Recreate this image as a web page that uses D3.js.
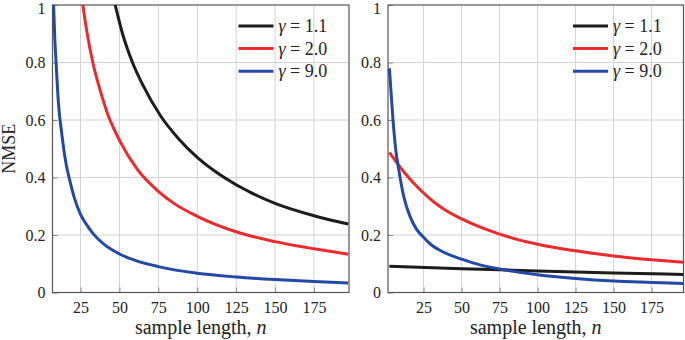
<!DOCTYPE html>
<html lang="en">
<head>
    <meta charset="UTF-8">
    <script type="text/javascript" src="https://d3js.org/d3.v7.min.js"></script>
    <title>NMSE vs sample length</title>
    <style>
        body { margin: 0; background: #fff; }
    </style>
</head>
<body>
    <script type="text/javascript">
        // values: n (sample length) and NMSE, per curve
        const gammaLabels = ["1.1", "2.0", "9.0"];
        const colors = ["#1c1c1c", "#ec2a2d", "#2448a6"];

        // left panel
        const leftBlackN = [47.3, 52, 58.4, 65, 76.5, 88, 100, 110.5, 125, 135.5, 150, 175, 197];
        const leftBlackV = [1.0, 0.9, 0.8, 0.722, 0.614, 0.535, 0.47, 0.425, 0.375, 0.345, 0.31, 0.267, 0.238];
        const leftRedN = [26.5, 29, 32.9, 37, 42.4, 50, 61.5, 75, 85, 100, 127.5, 150, 175, 197];
        const leftRedV = [1.0, 0.91, 0.8, 0.715, 0.622, 0.53, 0.428, 0.352, 0.31, 0.265, 0.207, 0.177, 0.152, 0.133];
        const leftBlueN = [7.7, 8.5, 9.3, 10.8, 13, 15.8, 18.1, 21, 25, 29, 33.2, 40, 50, 62, 75, 100, 125, 150, 175, 197];
        const leftBlueV = [1.0, 0.88, 0.8, 0.66, 0.55, 0.445, 0.39, 0.33, 0.272, 0.235, 0.204, 0.168, 0.134, 0.108, 0.09, 0.067, 0.054, 0.045, 0.038, 0.033];

        // right panel
        const rightBlackN = [2.5, 50, 75, 100, 150, 196];
        const rightBlackV = [0.091, 0.083, 0.079, 0.075, 0.068, 0.063];
        const rightRedN = [2.5, 5, 8.6, 12, 16, 20, 25, 32, 39, 50, 62, 75, 87, 100, 125, 150, 175, 196];
        const rightRedV = [0.487, 0.469, 0.443, 0.42, 0.395, 0.372, 0.346, 0.314, 0.288, 0.256, 0.228, 0.203, 0.184, 0.168, 0.145, 0.127, 0.114, 0.105];
        const rightBlueN = [2.5, 4.9, 6.7, 8.6, 11.9, 16.3, 20, 25, 30, 36, 43, 50, 62, 75, 100, 125, 150, 175, 196];
        const rightBlueV = [0.78, 0.6, 0.496, 0.43, 0.335, 0.262, 0.223, 0.192, 0.166, 0.146, 0.129, 0.116, 0.096, 0.082, 0.062, 0.049, 0.04, 0.035, 0.031];

        const xTicks = [25, 50, 75, 100, 125, 150, 175];
        const yTicks = [0, 0.2, 0.4, 0.6, 0.8, 1];

        const width = 685;
        const height = 340;
        const plotTop = 5, plotBottom = 292.5;
        const serif = "'Liberation Serif', 'Times New Roman', Tinos, 'Noto Serif', 'DejaVu Serif', FreeSerif, serif";

        const svg = d3.select("body").append("svg")
            .attr("width", width)
            .attr("height", height);

        const zip = (ns, vs) => ns.map((n, i) => [n, vs[i]]);

        const panels = [
            { left: 52.5, right: 349, domain: [7, 197.5], yLabel: true,
              series: [zip(leftBlackN, leftBlackV), zip(leftRedN, leftRedV), zip(leftBlueN, leftBlueV)] },
            { left: 388, right: 683.5, domain: [1.6, 196], yLabel: false,
              series: [zip(rightBlackN, rightBlackV), zip(rightRedN, rightRedV), zip(rightBlueN, rightBlueV)] }
        ];

        panels.forEach((p, pi) => {
            const x = d3.scaleLinear().domain(p.domain).range([p.left, p.right]);
            const y = d3.scaleLinear().domain([0, 1]).range([plotBottom, plotTop]);
            const g = svg.append("g");

            // grid
            g.selectAll(".vgrid").data(xTicks).join("line")
                .attr("x1", d => x(d)).attr("x2", d => x(d))
                .attr("y1", plotTop).attr("y2", plotBottom)
                .attr("stroke", "#d2d2d2").attr("stroke-width", 1);
            g.selectAll(".hgrid").data(yTicks.slice(1, -1)).join("line")
                .attr("x1", p.left).attr("x2", p.right)
                .attr("y1", d => y(d)).attr("y2", d => y(d))
                .attr("stroke", "#d2d2d2").attr("stroke-width", 1);

            // axes (ticks inside)
            const xAxis = g.append("g").attr("transform", `translate(0,${plotBottom})`)
                .call(d3.axisBottom(x).tickValues(xTicks).tickSize(-5).tickPadding(9));
            const yAxis = g.append("g").attr("transform", `translate(${p.left},0)`)
                .call(d3.axisLeft(y).tickValues(yTicks).tickSize(-5).tickPadding(7)
                    .tickFormat(d => d === 0 ? "0" : d === 1 ? "1" : d3.format(".1f")(d)));
            [xAxis, yAxis].forEach(a => {
                a.attr("font-family", null);
                a.select(".domain").remove();
                a.selectAll(".tick line").attr("stroke", "#8a8a8a");
                a.selectAll(".tick text")
                    .style("font-family", serif).style("font-size", "16px")
                    .attr("fill", "#222");
            });
            // top label sits at the edge of the page; keep it just inside
            yAxis.selectAll(".tick text").filter(d => d === 1).attr("dy", "0.5em");

            // frame
            g.append("rect")
                .attr("x", p.left).attr("y", plotTop)
                .attr("width", p.right - p.left).attr("height", plotBottom - plotTop)
                .attr("fill", "none").attr("stroke", "#555").attr("stroke-width", 1.2);

            // curves
            const clipId = "clip" + pi;
            svg.append("clipPath").attr("id", clipId).append("rect")
                .attr("x", p.left).attr("y", plotTop)
                .attr("width", p.right - p.left).attr("height", plotBottom - plotTop);
            const line = d3.line()
                .x(d => x(d[0])).y(d => y(d[1]))
                .curve(d3.curveMonotoneX);
            g.append("g").attr("clip-path", `url(#${clipId})`)
                .selectAll("path").data(p.series).join("path")
                .attr("d", line)
                .attr("fill", "none")
                .attr("stroke", (d, i) => colors[i])
                .attr("stroke-width", 3);

            // legend
            const lg = g.append("g").attr("transform", `translate(${p.right - 110.5},26)`);
            gammaLabels.forEach((lab, i) => {
                const row = lg.append("g").attr("transform", `translate(0,${i * 22.6})`);
                row.append("line").attr("x1", 0).attr("x2", 35)
                    .attr("stroke", colors[i]).attr("stroke-width", 3);
                const t = row.append("text").attr("x", 40).attr("y", 6)
                    .style("font-family", serif).style("font-size", "18px").attr("fill", "#222");
                t.append("tspan").attr("font-style", "italic").text("γ");
                t.append("tspan").text(" = " + lab);
            });

            // x label
            const xl = g.append("text")
                .attr("x", (p.left + p.right) / 2).attr("y", 334)
                .attr("text-anchor", "middle")
                .style("font-family", serif).style("font-size", "20px").attr("fill", "#222");
            xl.append("tspan").text("sample length, ");
            xl.append("tspan").attr("font-style", "italic").text("n");

            if (p.yLabel) {
                g.append("text")
                    .attr("transform", `translate(15,${(plotTop + plotBottom) / 2}) rotate(-90)`)
                    .attr("text-anchor", "middle")
                    .style("font-family", serif).style("font-size", "18px").attr("fill", "#222")
                    .text("NMSE");
            }
        });
    </script>
</body>
</html>
